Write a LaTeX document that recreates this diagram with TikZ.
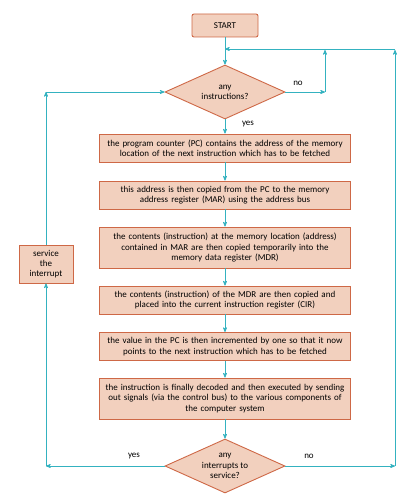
\documentclass[tikz,border=0pt]{standalone}
\usepackage{fontspec}
\setmainfont{Carlito}
\usetikzlibrary{arrows,shapes.geometric,positioning}
\definecolor{boxfill}{RGB}{242,208,190}
\definecolor{boxline}{RGB}{206,104,70}
\definecolor{flowline}{RGB}{52,178,192}

\begin{document}
\begin{tikzpicture}[x=1pt,y=-1pt,>=stealth',
  font=\fontsize{9}{10.2}\selectfont,
  stepbox/.style={rectangle,draw=boxline,fill=boxfill,line width=0.9pt,text width=243pt,inner sep=4pt,align=center,minimum height=28pt},
  startbox/.style={rectangle,rounded corners=2pt,draw=boxline,fill=boxfill,line width=0.9pt,minimum width=66pt,minimum height=23pt},
  decision/.style={diamond,aspect=2.2,draw=boxline,fill=boxfill,line width=0.9pt,inner sep=0pt,minimum width=120pt,minimum height=54pt,align=center},
  flow/.style={->,draw=flowline,line width=0.7pt},
  lbl/.style={inner sep=1pt}]

\useasboundingbox (0,0) rectangle (415,500);

\node [startbox] (start) at (225, 25.5) {START};
\node [decision] (instr) at (225, 92) {any\\instructions?};
\node [stepbox] (pc) at (225, 148) {the program counter (PC) contains the address of the memory\\location of the next instruction which has to be fetched};
\node [stepbox] (mar) at (225, 195) {this address is then copied from the PC to the memory\\address register (MAR) using the address bus};
\node [stepbox,minimum height=41pt] (mdr) at (225, 247.5) {the contents (instruction) at the memory location (address)\\contained in MAR are then copied temporarily into the\\memory data register (MDR)};
\node [stepbox] (cir) at (225, 300) {the contents (instruction) of the MDR are then copied and\\placed into the current instruction register (CIR)};
\node [stepbox] (inc) at (225, 346.5) {the value in the PC is then incremented by one so that it now\\points to the next instruction which has to be fetched};
\node [stepbox,minimum height=41pt] (exec) at (225, 398.5) {the instruction is finally decoded and then executed by sending\\out signals (via the control bus) to the various components of\\the computer system};
\node [decision] (intr) at (225, 466) {any\\interrupts to\\service?};
\node [stepbox,text width=46pt,minimum height=38pt] (serv) at (46, 264) {service\\the\\interrupt};

\coordinate (join) at (225, 49);
\coordinate (noturn) at (325, 92);
\coordinate (noup) at (325, 49);
\coordinate (intno) at (395, 466);
\coordinate (inttop) at (395, 49);
\coordinate (intyes) at (46, 466);
\coordinate (servtop) at (46, 92);

\node [lbl] (no1) at (298, 83) {no};
\node [lbl] (yes1) at (248, 124) {yes};
\node [lbl] (yes2) at (134, 456) {yes};
\node [lbl] (no2) at (309, 456) {no};

\draw [flow] (start) to (instr);
\draw [flow] (instr) to (pc);
\draw [flow] (pc) to (mar);
\draw [flow] (mar) to (mdr);
\draw [flow] (mdr) to (cir);
\draw [flow] (cir) to (inc);
\draw [flow] (inc) to (exec);
\draw [flow] (exec) to (intr);

% no instruction: loop back
\draw [flow] (instr.east) to (noturn);
\draw [flow] (noturn) to ([yshift=-1pt]noup);

% no interrupt: back to the top
\draw [flow] (intr.east) to (intno);
\draw [flow] (intno) to ([yshift=-1pt]inttop);
\draw [flow] (inttop) to (join);

% interrupt: service it
\draw [flow] (intr.west) to (intyes);
\draw [flow] (intyes) to (serv);
\draw [flow] (serv) to (servtop);
\draw [flow] (servtop) to (instr.west);
\end{tikzpicture}
\end{document}
